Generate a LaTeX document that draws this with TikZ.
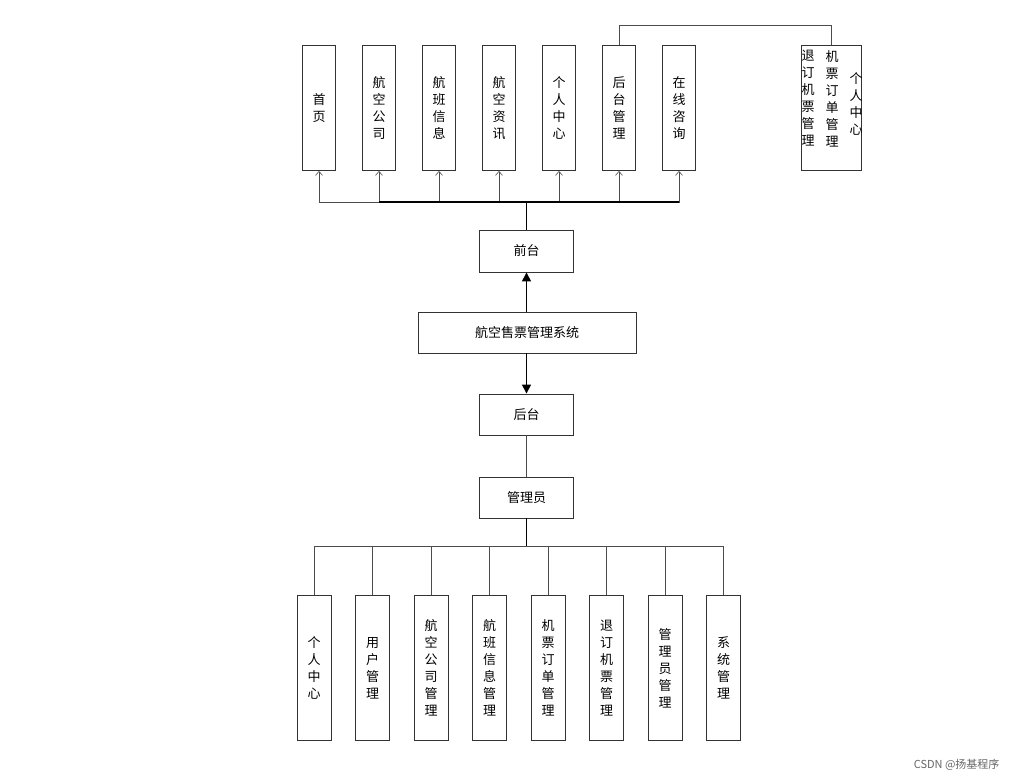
\documentclass[tikz,border=0pt]{standalone}
\usepackage{fontspec}
\setmainfont{Noto Sans CJK SC}
\usetikzlibrary{arrows.meta}
\begin{document}
\begin{tikzpicture}[x=1pt,y=-1pt,
  box/.style={draw=black!80,line width=0.9pt,fill=white,inner sep=0pt,font=\fontsize{13}{13}\selectfont},
  vt/.style={align=center,font=\fontsize{13}{17}\selectfont,inner sep=0pt},
  ln/.style={draw=black!70,line width=0.6pt},
  tk/.style={draw=black,line width=1.4pt},
  oa/.style={-{Straight Barb[length=4pt,width=7pt]}}]
\useasboundingbox (0,0) rectangle (1018,782);
% top boxes
\foreach \n/\x/\t in {a/319/首\\页, b/379/航\\空\\公\\司, c/439/航\\班\\信\\息, d/499/航\\空\\资\\讯, e/559/个\\人\\中\\心, f/619/后\\台\\管\\理, g/679/在\\线\\咨\\询}{
  \node[box,minimum width=33pt,minimum height=125pt] (\n) at (\x,108) {};
  \node[vt] at (\x,108) {\t};
}
\node[box,minimum width=60pt,minimum height=125pt] (h) at (831,108) {};
\node[vt,anchor=north] at (856,72) {个\\人\\中\\心};
\node[vt,anchor=north] at (832,50) {机\\票\\订\\单\\管\\理};
\node[vt,anchor=north] at (808,50) {退\\订\\机\\票\\管\\理};
\draw[ln] (f.north) -- ++(0,-20) -| (h.north);
% middle
\node[box,minimum width=94pt,minimum height=42pt] (qt) at (526.5,251) {前台};
\node[box,minimum width=218pt,minimum height=41pt] (sys) at (527,332.5) {航空售票管理系统};
\node[box,minimum width=94pt,minimum height=41pt] (ht) at (526.5,414.5) {后台};
\node[box,minimum width=94pt,minimum height=41pt] (gl) at (526.5,497.5) {管理员};
\coordinate (tj) at (526.5,202);
\foreach \n in {a,b,c,d,e,f,g}{ \draw[ln,oa] (tj) -| (\n.south); }
\draw[tk] (qt.north) -- (tj);
\draw[tk] (b.south |- tj) -- (g.south |- tj);
\draw[tk,-{Triangle[length=9pt,width=9pt]}] (sys.north -| qt) -- (qt.south);
\draw[tk,-{Triangle[length=9pt,width=9pt]}] (sys.south -| ht) -- (ht.north);
\draw[ln] (ht.south) -- (gl.north);
% bottom
\coordinate (bj) at (526.5,546);
\foreach \n/\x/\t in {p/314/个\\人\\中\\心, q/372.5/用\\户\\管\\理, r/431/航\\空\\公\\司\\管\\理, s/489.5/航\\班\\信\\息\\管\\理, t/548/机\\票\\订\\单\\管\\理, u/606.5/退\\订\\机\\票\\管\\理, v/665/管\\理\\员\\管\\理, w/723.5/系\\统\\管\\理}{
  \node[box,minimum width=34pt,minimum height=145pt] (\n) at (\x,668) {};
  \node[vt] at (\x,668) {\t};
  \draw[ln] (bj) -| (\n.north);
}
\draw[tk] (gl.south) -- (bj);
\node[font=\fontsize{11}{11}\selectfont,text=black!60,anchor=east] (wm) at (1003,765) {CSDN @扬基程序};
\end{tikzpicture}
\end{document}
